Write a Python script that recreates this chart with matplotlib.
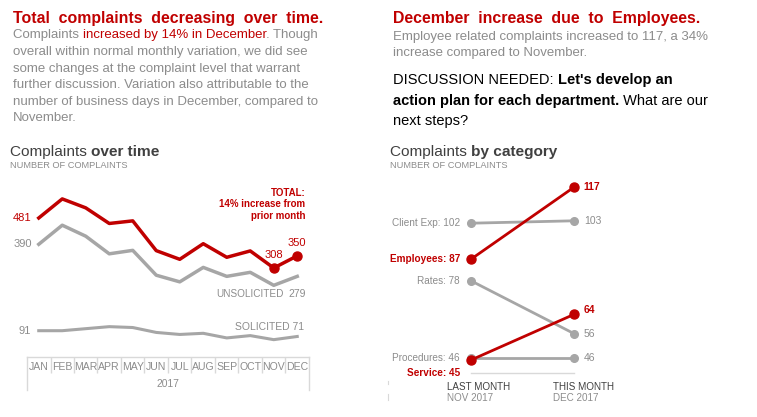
import matplotlib
matplotlib.use("Agg")
import matplotlib.pyplot as plt
from matplotlib.lines import Line2D

plt.rcParams['font.family'] = ['Liberation Sans', 'DejaVu Sans']

# ---------------- data ----------------
months = ["JAN", "FEB", "MAR", "APR", "MAY", "JUN", "JUL", "AUG", "SEP", "OCT", "NOV", "DEC"]
year_label = "2017"
total = [481, 547, 516, 462, 471, 368, 338, 392, 345, 367, 308, 350]
unsolicited = [390, 456, 418, 357, 369, 283, 260, 310, 279, 293, 248, 279]
solicited = [91, 91, 98, 105, 102, 85, 78, 82, 66, 74, 60, 71]

categories = ["Client Exp", "Employees", "Rates", "Procedures", "Service"]
last_month = [102, 87, 78, 46, 45]
this_month = [103, 117, 56, 46, 64]
highlight = [False, True, False, False, True]
period_labels = [("LAST MONTH", "NOV 2017"), ("THIS MONTH", "DEC 2017")]

RED = "#c00000"
GRAY = "#a6a6a6"
TXT_GRAY = "#8c8c8c"
DARK = "#404040"
LIGHT = "#d9d9d9"

W, H = 757, 417
fig = plt.figure(figsize=(W / 100, H / 100), dpi=100)
renderer = fig.canvas.get_renderer()


def fx(x):
    return x / W


def fy(y):
    return 1 - y / H


def T(x, y, s, **kw):
    kw.setdefault("va", "center")
    return fig.text(fx(x), fy(y), s, **kw)


def segs(x, y, parts, size):
    """draw consecutive text segments (text, color, weight)"""
    for s, c, w in parts:
        t = T(x, y, s, color=c, fontweight=w, fontsize=size, ha="left")
        bb = t.get_window_extent(renderer)
        x = bb.x1


# ---------------- left text ----------------
T(13, 18, "Total  complaints  decreasing  over  time.", color=RED, fontweight="bold", fontsize=11.4)
bsz = 9.5
segs(13, 35, [("Complaints ", TXT_GRAY, "normal"), ("increased by 14% in December", RED, "normal"),
              (". Though", TXT_GRAY, "normal")], bsz)
body_lines = ["overall within normal monthly variation, we did see",
              "some changes at the complaint level that warrant",
              "further discussion. Variation also attributable to the",
              "number of business days in December, compared to",
              "November."]
for i, ln in enumerate(body_lines):
    T(13, 52 + i * 16.6, ln, color=TXT_GRAY, fontsize=bsz)

# ---------------- right text ----------------
T(393, 18, "December  increase  due  to  Employees.", color=RED, fontweight="bold", fontsize=11.4)
T(393, 37, "Employee related complaints increased to 117, a 34%", color=TXT_GRAY, fontsize=bsz)
T(393, 53, "increase compared to November.", color=TXT_GRAY, fontsize=bsz)
dsz = 10.5
segs(393, 80, [("DISCUSSION NEEDED: ", "black", "normal"), ("Let's develop an", "black", "bold")], dsz)
segs(393, 101, [("action plan for each department.", "black", "bold"), (" What are our", "black", "normal")], dsz)
T(393, 121, "next steps?", color="black", fontsize=dsz)

# ---------------- chart headers ----------------
segs(10, 152, [("Complaints ", DARK, "normal"), ("over time", DARK, "bold")], 11.1)
T(10, 166, "NUMBER OF COMPLAINTS", color=TXT_GRAY, fontsize=6.7)
segs(390, 152, [("Complaints ", DARK, "normal"), ("by category", DARK, "bold")], 11.1)
T(390, 166, "NUMBER OF COMPLAINTS", color=TXT_GRAY, fontsize=6.7)

# ---------------- left chart ----------------
ax_l, ax_r, ax_t, ax_b = 27, 309, 170, 357
ax = fig.add_axes([fx(ax_l), fy(ax_b), (ax_r - ax_l) / W, (ax_b - ax_t) / H])
px_per_unit = 1 / 3.46
ax.set_xlim(-0.5, len(months) - 0.5)
ax.set_ylim(0, (ax_b - ax_t) / px_per_unit)
for s in ax.spines.values():
    s.set_visible(False)
ax.set_yticks([])
ax.set_xticks(range(len(months)))
ax.set_xticklabels(months, fontsize=7.6, color=TXT_GRAY)
ax.tick_params(axis="x", length=0, pad=3.5)
ax.set_xticks([i + 0.5 for i in range(len(months) - 1)], minor=True)
ax.tick_params(axis="x", which="minor", length=11.5, color=LIGHT, width=1)
ax.patch.set_alpha(0)

x = list(range(len(months)))
ax.plot(x, unsolicited, color=GRAY, lw=2.5, clip_on=False)
ax.plot(x, solicited, color=GRAY, lw=2.2, clip_on=False)
ax.plot(x, total, color=RED, lw=2.5, clip_on=False)
ax.plot(x[-2:], total[-2:], "o", color=RED, ms=6.5, clip_on=False)

# axis frame lines
hpx = ax_b - ax_t
ax.plot([-0.5, len(months) - 0.5], [0, 0], color=LIGHT, lw=1, clip_on=False)
bt = ax.get_xaxis_transform()
ax.plot([-0.5, -0.5], [0, -33 / hpx], color=LIGHT, lw=1, transform=bt, clip_on=False)
ax.plot([len(months) - 0.5] * 2, [0, -33 / hpx], color=LIGHT, lw=1, transform=bt, clip_on=False)
ax.text((len(months) - 1) / 2, -27 / hpx, year_label, transform=bt, ha="center", va="center",
        fontsize=7.4, color=TXT_GRAY)

# labels
ax.annotate(str(total[0]), (x[0], total[0]), xytext=(-5, 0), textcoords="offset points",
            ha="right", va="center", color=RED, fontsize=8)
ax.annotate(str(unsolicited[0]), (x[0], unsolicited[0]), xytext=(-5, 0), textcoords="offset points",
            ha="right", va="center", color=TXT_GRAY, fontsize=8)
ax.annotate(str(solicited[0]), (x[0], solicited[0]), xytext=(-6, 0), textcoords="offset points",
            ha="right", va="center", color=TXT_GRAY, fontsize=8)
ax.annotate(str(total[-1]), (x[-1], total[-1]), xytext=(0, 9), textcoords="offset points",
            ha="center", va="center", color=RED, fontsize=8)
ax.annotate(str(total[-2]), (x[-2], total[-2]), xytext=(0, 9), textcoords="offset points",
            ha="center", va="center", color=RED, fontsize=8)
ax.annotate("TOTAL:\n14% increase from\nprior month", (x[-1], total[-1]), xytext=(6, 37),
            textcoords="offset points", ha="right", va="center", color=RED, fontsize=7,
            fontweight="bold", linespacing=1.15)
ax.annotate("UNSOLICITED", (x[-1], unsolicited[-1]), xytext=(-10, -13), textcoords="offset points",
            ha="right", va="center", color=TXT_GRAY, fontsize=7.2)
ax.annotate(str(unsolicited[-1]), (x[-1], unsolicited[-1]), xytext=(0, -13), textcoords="offset points",
            ha="center", va="center", color=TXT_GRAY, fontsize=7.5)
ax.annotate("SOLICITED " + str(solicited[-1]), (x[-1], solicited[-1]), xytext=(5, 7),
            textcoords="offset points", ha="right", va="center", color=TXT_GRAY, fontsize=7.5)

# ---------------- right chart ----------------
r_l, r_r, r_t, r_b = 471, 574, 180, 373
ax2 = fig.add_axes([fx(r_l), fy(r_b), (r_r - r_l) / W, (r_b - r_t) / H])
ppu = 2.4
ref_v, ref_px = 45, 360
ax2.set_ylim(ref_v - (r_b - ref_px) / ppu, ref_v + (ref_px - r_t) / ppu)
ax2.set_xlim(0, 1)
for k, s in ax2.spines.items():
    s.set_visible(k == "bottom")
ax2.spines["bottom"].set_color(LIGHT)
ax2.spines["bottom"].set_linewidth(1)
ax2.set_xticks([])
ax2.set_yticks([])
ax2.patch.set_alpha(0)

order = [i for i in range(len(categories)) if not highlight[i]] + \
        [i for i in range(len(categories)) if highlight[i]]
for i in order:
    c = RED if highlight[i] else GRAY
    ms = 6.5 if highlight[i] else 5.5
    ax2.plot([0, 1], [last_month[i], this_month[i]], color=c, lw=2.0, marker="o", ms=ms,
             clip_on=False, zorder=3 if highlight[i] else 2)
    fw = "bold" if highlight[i] else "normal"
    lc = RED if highlight[i] else TXT_GRAY
    yoff = -9 if categories[i] == "Service" else 0
    ax2.annotate(f"{categories[i]}: {last_month[i]}", (0, last_month[i]), xytext=(-8, yoff),
                 textcoords="offset points", ha="right", va="center", color=lc,
                 fontsize=7.2, fontweight=fw)
    ryoff = 3 if categories[i] == "Service" else 0
    ax2.annotate(f"{this_month[i]}", (1, this_month[i]), xytext=(7, ryoff),
                 textcoords="offset points", ha="left", va="center", color=lc,
                 fontsize=7.5, fontweight=fw)

# period labels
for (top, bottom), xp in zip(period_labels, [447, 553]):
    T(xp, 387, top, color=DARK, fontsize=7.1)
    T(xp, 398, bottom, color=TXT_GRAY, fontsize=7.1)
fig.add_artist(Line2D([fx(388), fx(388)], [fy(381), fy(384)], color=LIGHT, lw=0.8))
fig.add_artist(Line2D([fx(388), fx(388)], [fy(394), fy(400)], color=LIGHT, lw=0.8))

fig.savefig("out.png", dpi=100, facecolor="white")
